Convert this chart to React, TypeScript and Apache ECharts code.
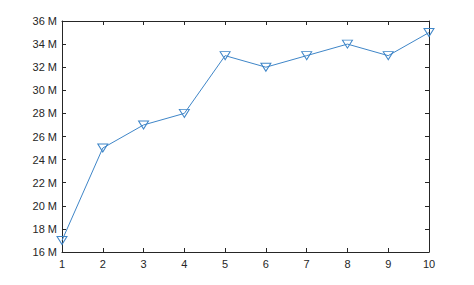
import React, { useEffect, useRef } from "react";
import * as echarts from "echarts";

const xValues = [1, 2, 3, 4, 5, 6, 7, 8, 9, 10];
const yValues = [17e6, 25e6, 27e6, 28e6, 33e6, 32e6, 33e6, 34e6, 33e6, 35e6];

const axisColor = "#262626";
const lineColor = "#3f86c8";

export default function App() {
  const ref = useRef<HTMLDivElement>(null);
  useEffect(() => {
    const chart = echarts.init(ref.current!, null, { renderer: "svg" });
    const common = {
      axisLine: { show: true, lineStyle: { color: axisColor, width: 1 } },
      axisTick: { show: true, inside: true, length: 4, lineStyle: { color: axisColor } },
      splitLine: { show: false },
    };
    chart.setOption({
      animation: false,
      backgroundColor: "#fff",
      grid: { left: 62, right: 45, top: 21, bottom: 33, containLabel: false },
      xAxis: [
        {
          type: "value",
          min: 1,
          max: 10,
          interval: 1,
          position: "bottom",
          ...common,
          axisLabel: { color: axisColor, fontSize: 11, fontFamily: "Liberation Sans, Arial", margin: 6 },
        },
        {
          type: "value",
          min: 1,
          max: 10,
          interval: 1,
          position: "top",
          ...common,
          axisLabel: { show: false },
        },
      ],
      yAxis: [
        {
          type: "value",
          min: 16e6,
          max: 36e6,
          interval: 2e6,
          position: "left",
          ...common,
          axisLabel: {
            color: axisColor,
            fontSize: 11,
            fontFamily: "Liberation Sans, Arial",
            margin: 5,
            formatter: (v: number) => `${v / 1e6} M`,
          },
        },
        {
          type: "value",
          min: 16e6,
          max: 36e6,
          interval: 2e6,
          position: "right",
          ...common,
          axisLabel: { show: false },
        },
      ],
      series: [
        {
          type: "line",
          data: xValues.map((x, i) => [x, yValues[i]]),
          symbol: "triangle",
          symbolRotate: 180,
          symbolSize: [10, 8],
          showAllSymbol: true,
          lineStyle: { color: lineColor, width: 1 },
          itemStyle: { color: "rgba(255,255,255,0)", borderColor: lineColor, borderWidth: 1 },
          emphasis: { disabled: true },
        },
      ],
    });
    return () => chart.dispose();
  }, []);
  return <div ref={ref} style={{ width: 474, height: 285, margin: -8 }} />;
}
